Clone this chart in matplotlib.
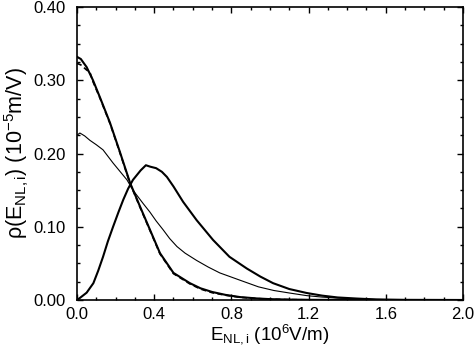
import matplotlib
matplotlib.use("Agg")
import matplotlib.pyplot as plt
from matplotlib.ticker import MultipleLocator, FormatStrFormatter

plt.rcParams['font.family'] = ['Liberation Sans', 'DejaVu Sans']
plt.rcParams['mathtext.fontset'] = 'custom'
plt.rcParams['mathtext.rm'] = 'Liberation Sans'
plt.rcParams['mathtext.it'] = 'Liberation Sans:italic'
plt.rcParams['mathtext.bf'] = 'Liberation Sans:bold'

# Curve A: thick solid, decaying from 0.33
xa = [0.0, 0.02, 0.05, 0.083, 0.12, 0.171, 0.22, 0.275, 0.326, 0.378, 0.43, 0.50, 0.585, 0.64, 0.70, 0.77, 0.845, 0.93, 1.0, 1.1, 1.2, 1.5, 2.0]
ya = [0.332, 0.329, 0.318, 0.300, 0.276, 0.242, 0.204, 0.160, 0.128, 0.096, 0.064, 0.037, 0.023, 0.016, 0.011, 0.007, 0.004, 0.0022, 0.0012, 0.0006, 0.0003, 0.0, 0.0]

# Curve B: dashed, nearly on top of A
xb = [0.0, 0.02, 0.05, 0.067, 0.083, 0.12, 0.171, 0.22, 0.275, 0.326, 0.378, 0.43, 0.50, 0.585, 0.64, 0.70, 0.77, 0.845, 0.93, 1.0, 1.1, 1.2, 1.5, 2.0]
yb = [0.323, 0.321, 0.314, 0.311, 0.298, 0.275, 0.241, 0.203, 0.159, 0.127, 0.095, 0.063, 0.036, 0.022, 0.015, 0.010, 0.0065, 0.0037, 0.002, 0.0011, 0.0005, 0.0002, 0.0, 0.0]

# Curve C: thin solid, starting at 0.225
xc = [0.0, 0.015, 0.04, 0.067, 0.10, 0.135, 0.187, 0.259, 0.29, 0.342, 0.378, 0.41, 0.446, 0.48, 0.518, 0.56, 0.62, 0.68, 0.74, 0.845, 0.94, 1.02, 1.10, 1.19, 1.27, 1.36, 1.45, 1.55, 1.65, 2.0]
yc = [0.225, 0.228, 0.224, 0.218, 0.212, 0.205, 0.187, 0.164, 0.150, 0.132, 0.120, 0.108, 0.096, 0.084, 0.073, 0.064, 0.054, 0.045, 0.037, 0.027, 0.018, 0.013, 0.0096, 0.006, 0.004, 0.0025, 0.0015, 0.0008, 0.0004, 0.0]

# Curve D: thick solid, rising from 0, peak near 0.36
xd = [0.0, 0.016, 0.05, 0.085, 0.11, 0.135, 0.16, 0.187, 0.215, 0.24, 0.265, 0.29, 0.33, 0.357, 0.38, 0.41, 0.44, 0.466, 0.50, 0.55, 0.62, 0.705, 0.79, 0.88, 0.95, 1.016, 1.10, 1.19, 1.27, 1.35, 1.45, 1.55, 1.70, 2.0]
yd = [0.0, 0.003, 0.010, 0.023, 0.040, 0.059, 0.080, 0.100, 0.120, 0.137, 0.152, 0.164, 0.177, 0.184, 0.182, 0.180, 0.175, 0.168, 0.155, 0.134, 0.109, 0.082, 0.059, 0.043, 0.032, 0.023, 0.015, 0.0096, 0.006, 0.0035, 0.002, 0.0008, 0.0002, 0.0]

fig = plt.figure(figsize=(4.74, 3.47), dpi=100)
ax = fig.add_axes([0.1624, 0.1354, 0.8144, 0.8444])

ax.plot(xa, ya, color='black', lw=1.5)
ax.plot(xb, yb, color='black', lw=1.2, ls=(0, (3, 2)))
ax.plot(xc, yc, color='black', lw=0.8)
ax.plot(xd, yd, color='black', lw=1.5)

ax.set_xlim(0, 2.0)
ax.set_ylim(0, 0.40)
ax.xaxis.set_major_locator(MultipleLocator(0.4))
ax.xaxis.set_minor_locator(MultipleLocator(0.1))
ax.yaxis.set_major_locator(MultipleLocator(0.1))
ax.yaxis.set_minor_locator(MultipleLocator(0.025))
ax.xaxis.set_major_formatter(FormatStrFormatter('%.1f'))
ax.yaxis.set_major_formatter(FormatStrFormatter('%.2f'))
ax.tick_params(which='both', direction='in', top=True, right=True, width=1.0)
ax.tick_params(which='major', length=4, labelsize=12)
ax.tick_params(axis='x', which='major', pad=5)
ax.tick_params(axis='y', which='major', pad=8)
ax.tick_params(which='minor', length=2.5)
for s in ax.spines.values():
    s.set_linewidth(1.2)

ax.set_xlabel(r'E$_{\mathrm{NL,i}}$ (10$^{6}$V/m)', fontsize=13.5, labelpad=0)
ax.set_ylabel(r'ρ(E$_{\mathrm{NL,i}}$) (10$^{-5}$m/V)', fontsize=15.5, labelpad=2)

fig.savefig('out.png', dpi=100)
